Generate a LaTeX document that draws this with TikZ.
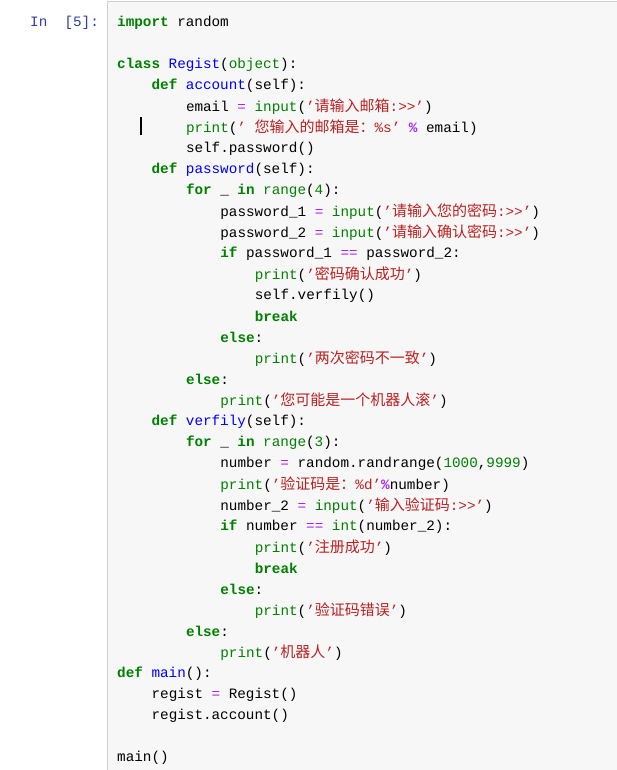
\documentclass[tikz,border=0pt]{standalone}
\usepackage{fontspec}
\setmainfont{Liberation Mono}
\newfontfamily\cjk{Noto Sans CJK SC}
\definecolor{kwc}{HTML}{008000}
\definecolor{fnc}{HTML}{0000FF}
\definecolor{stc}{HTML}{BA2121}
\definecolor{opc}{HTML}{AA22FF}
\definecolor{promptc}{HTML}{303F9F}
\newcommand\kw[1]{\textcolor{kwc}{\bfseries #1}}
\newcommand\bi[1]{\textcolor{kwc}{#1}}
\newcommand\fn[1]{\textcolor{fnc}{#1}}
\newcommand\st[1]{\textcolor{stc}{#1}}
\newcommand\op[1]{\textcolor{opc}{#1}}
\newcommand\zh[1]{{\cjk\fontsize{15}{15}\selectfont #1}}
\newcommand\prm{>{}>}
\tikzset{codeline/.style={anchor=west,inner sep=0pt,font=\fontsize{14.3}{15}\selectfont}}
\newcommand\cl[4]{\node[codeline] (#1) at ({117+#2*8.6},{#3+1.5}) {#4};}
\begin{document}
\begin{tikzpicture}[x=1pt,y=-1pt]
\useasboundingbox (0,0) rectangle (617,770);
\fill[white] (0,0) rectangle (617,770);
\draw[fill={rgb,255:red,247;green,247;blue,247},draw={rgb,255:red,207;green,207;blue,207}] (107,1) rectangle (640,800);
\node[codeline,text=promptc] (prompt) at (30,22.5) {In~~[5]:};
\draw[line width=2pt] (141,117) -- (141,135);
\cl{l1}{0}{21}{\kw{import} random}
\cl{l3}{0}{63}{\kw{class} \fn{Regist}(\bi{object}):}
\cl{l4}{4}{84}{\kw{def} \fn{account}(self):}
\cl{l5}{8}{105}{email \op{=} \bi{input}(\st{’\zh{请输入邮箱}:\prm’})}
\cl{l6}{8}{126}{\bi{print}(\st{’ \zh{您输入的邮箱是：}\%s’} \op{\bfseries\%} email)}
\cl{l7}{8}{147}{self.password()}
\cl{l8}{4}{168}{\kw{def} \fn{password}(self):}
\cl{l9}{8}{189}{\kw{for} \_ \kw{in} \bi{range}(\bi{4}):}
\cl{l10}{12}{210}{password\_1 \op{=} \bi{input}(\st{’\zh{请输入您的密码}:\prm’})}
\cl{l11}{12}{231}{password\_2 \op{=} \bi{input}(\st{’\zh{请输入确认密码}:\prm’})}
\cl{l12}{12}{252}{\kw{if} password\_1 \op{==} password\_2:}
\cl{l13}{16}{273}{\bi{print}(\st{’\zh{密码确认成功}’})}
\cl{l14}{16}{294}{self.verfily()}
\cl{l15}{16}{315}{\kw{break}}
\cl{l16}{12}{336}{\kw{else}:}
\cl{l17}{16}{357}{\bi{print}(\st{’\zh{两次密码不一致}’})}
\cl{l18}{8}{378}{\kw{else}:}
\cl{l19}{12}{399}{\bi{print}(\st{’\zh{您可能是一个机器人滚}’})}
\cl{l20}{4}{420}{\kw{def} \fn{verfily}(self):}
\cl{l21}{8}{441}{\kw{for} \_ \kw{in} \bi{range}(\bi{3}):}
\cl{l22}{12}{462}{number \op{=} random.randrange(\bi{1000},\bi{9999})}
\cl{l23}{12}{483}{\bi{print}(\st{’\zh{验证码是：}\%d’}\op{\bfseries\%}number)}
\cl{l24}{12}{504}{number\_2 \op{=} \bi{input}(\st{’\zh{输入验证码}:\prm’})}
\cl{l25}{12}{525}{\kw{if} number \op{==} \bi{int}(number\_2):}
\cl{l26}{16}{546}{\bi{print}(\st{’\zh{注册成功}’})}
\cl{l27}{16}{567}{\kw{break}}
\cl{l28}{12}{588}{\kw{else}:}
\cl{l29}{16}{609}{\bi{print}(\st{’\zh{验证码错误}’})}
\cl{l30}{8}{630}{\kw{else}:}
\cl{l31}{12}{651}{\bi{print}(\st{’\zh{机器人}’})}
\cl{l32}{0}{672}{\kw{def} \fn{main}():}
\cl{l33}{4}{693}{regist \op{=} Regist()}
\cl{l34}{4}{714}{regist.account()}
\cl{l36}{0}{756}{main()}
\end{tikzpicture}
\end{document}
